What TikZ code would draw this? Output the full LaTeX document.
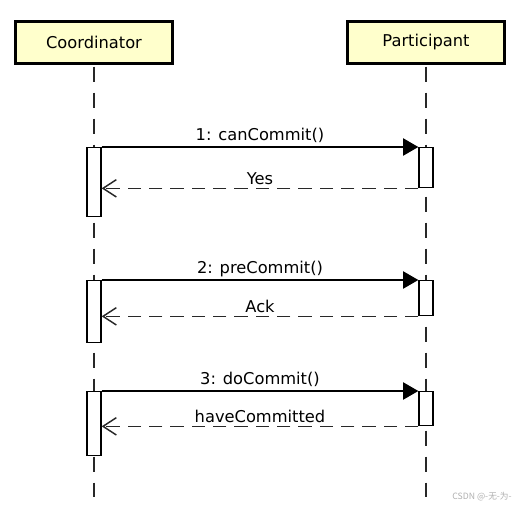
\documentclass[tikz,border=0pt]{standalone}
\usepackage{fontspec}
\setmainfont{DejaVu Sans}
\newfontfamily\cjk{Noto Sans CJK SC}
\usetikzlibrary{arrows.meta}
\definecolor{actorfill}{RGB}{255,255,204}
\definecolor{linegrey}{RGB}{40,40,40}
\definecolor{wmgrey}{RGB}{175,175,175}
\begin{document}
\begin{tikzpicture}[x=0.75pt,y=-0.75pt,
  actor/.style={draw=black,line width=2.2pt,fill=actorfill,minimum width=118pt,minimum height=31pt,inner sep=0pt,font=\fontsize{12.2}{14}\selectfont},
  actbox/.style={draw=black,fill=white,line width=1pt,minimum width=10.5pt,inner sep=0pt,anchor=north},
  lifeline/.style={line width=1.1pt,draw=linegrey,dash pattern=on 11.25pt off 8.25pt},
  call/.style={line width=1.1pt,-{Triangle[length=11.5pt,width=13pt]}},
  reply/.style={line width=1.1pt,draw=linegrey,dash pattern=on 10pt off 6pt,-{Straight Barb[length=10pt,width=13pt,line width=1.1pt]}},
  lbl/.style={font=\fontsize{12.2}{14}\selectfont,inner sep=0pt,anchor=base,yshift=5.2pt},
  rlbl/.style={font=\fontsize{12.2}{14}\selectfont,inner sep=0pt,anchor=base,yshift=3.2pt}]
\useasboundingbox (0,0) rectangle (520,509);
\node[actor] (coord) at (94,42.5) {Coordinator};
\node[actor] (part) at (426,42.5) {Participant};
\coordinate (cend) at (94,497);
\coordinate (pend) at (426,497);
\draw[lifeline] ([yshift=-1.5pt]coord.south) -- (cend);
\draw[lifeline] ([yshift=-1.5pt]part.south) -- (pend);
% activation boxes
\node[actbox,minimum height=51.75pt] (c1) at (94,147) {};
\node[actbox,minimum height=30pt] (p1) at (426,147) {};
\node[actbox,minimum height=46.5pt] (c2) at (94,280) {};
\node[actbox,minimum height=26.25pt] (p2) at (426,280) {};
\node[actbox,minimum height=48pt] (c3) at (94,391) {};
\node[actbox,minimum height=25.5pt] (p3) at (426,391) {};
% messages
\draw[call] (c1.north east) -- node[lbl] (m1) {1: canCommit()} (p1.north west);
\draw[reply] (p1.south west) -- node[rlbl] (r1) {Yes} (c1.east |- p1.south west);
\draw[call] (c2.north east) -- node[lbl] (m2) {2: preCommit()} (p2.north west);
\draw[reply] (p2.south west) -- node[rlbl] (r2) {Ack} (c2.east |- p2.south west);
\draw[call] (c3.north east) -- node[lbl] (m3) {3: doCommit()} (p3.north west);
\draw[reply] (p3.south west) -- node[rlbl] (r3) {haveCommitted} (c3.east |- p3.south west);
% watermark
\node[text=wmgrey,font=\cjk\fontsize{6.5}{8}\selectfont,inner sep=0pt] (wm) at (482,497) {CSDN @-无-为-};
\end{tikzpicture}
\end{document}
